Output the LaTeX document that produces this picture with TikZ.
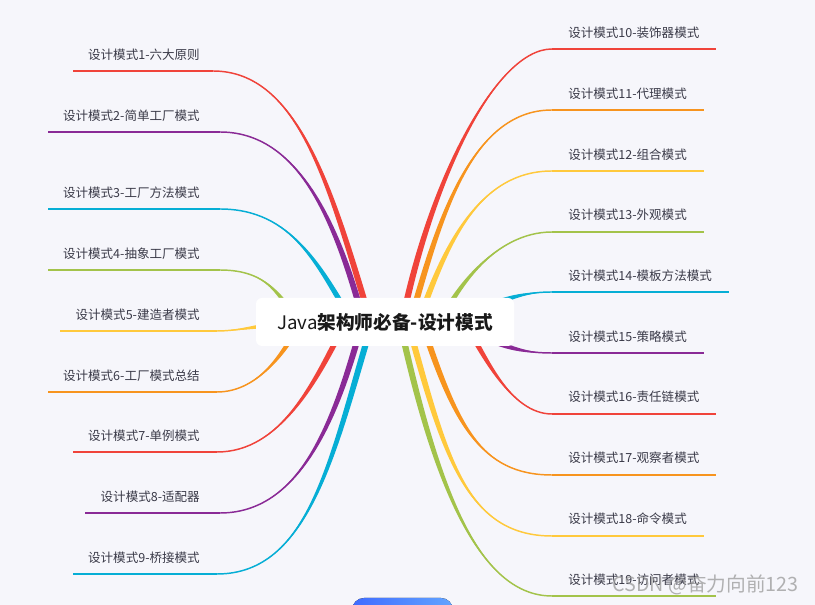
\documentclass[tikz,border=0pt]{standalone}
\usepackage{fontspec}
\setmainfont{Noto Sans CJK SC}
\usetikzlibrary{calc}
\definecolor{paper}{HTML}{F6F6FB}
\definecolor{ink}{HTML}{3A3A48}
\definecolor{bred}{HTML}{F0433A}
\definecolor{bpurple}{HTML}{8A2A96}
\definecolor{bcyan}{HTML}{06AED5}
\definecolor{bgreen}{HTML}{A3C34A}
\definecolor{byellow}{HTML}{FFC93C}
\definecolor{borange}{HTML}{F7941E}
\definecolor{blueA}{HTML}{3F6BFF}
\definecolor{blueB}{HTML}{62A4FF}
% tapered branch: colour, start, control 1, control 2, end, half width
\newcommand{\twig}[6]{%
  \fill[#1] (#2) .. controls (#3) and ($(#4)+(#6)$) .. ($(#5)+(#6)$)
     -- ($(#5)-(#6)$) .. controls ($(#4)-(#6)$) and (#3) .. (#2) -- cycle;
  \draw[#1,line width=1.1pt] (#2) .. controls (#3) and (#4) .. (#5);}

\begin{document}
\begin{tikzpicture}[x=0.75pt,y=-0.75pt,
   lab/.style={text=ink,inner sep=0pt,font=\fontsize{9.4}{11}\selectfont},
   stem/.style={line width=1pt},
   rootbox/.style={fill=white,rounded corners=4.5pt,minimum width=193.5pt,minimum height=36pt,inner sep=0pt}]
   \fill[paper] (0,0) rectangle (815,605);
   \useasboundingbox (0,0) rectangle (815,605);
   % left side
   \coordinate (a1) at (73,71);  \coordinate (p1) at (213,71);  \coordinate (q1) at (371,323);
   \coordinate (a2) at (48,132); \coordinate (p2) at (220,132); \coordinate (q2) at (364,323);
   \coordinate (a3) at (48,209); \coordinate (p3) at (220,209); \coordinate (q3) at (353,323);
   \coordinate (a4) at (48,270); \coordinate (p4) at (220,270); \coordinate (q4) at (300,323);
   \coordinate (a5) at (60,331); \coordinate (p5) at (217,331); \coordinate (q5) at (295,323);
   \coordinate (a6) at (48,392); \coordinate (p6) at (217,392); \coordinate (q6) at (300,323);
   \coordinate (a7) at (73,452); \coordinate (p7) at (217,452); \coordinate (q7) at (345,323);
   \coordinate (a8) at (85,513); \coordinate (p8) at (220,513); \coordinate (q8) at (362,323);
   \coordinate (a9) at (73,574); \coordinate (p9) at (217,574); \coordinate (q9) at (372,323);
   \twig{bred}{p1}{300,71}{332,193}{q1}{3.2,0}
   \twig{bpurple}{p2}{299,132}{337,223}{q2}{3.2,0}
   \twig{bcyan}{p3}{293,209}{320,268}{q3}{3.2,0}
   \twig{bgreen}{p4}{270,270}{280,298}{q4}{3.2,0}
   \twig{byellow}{p5}{240,331}{265,324}{q5}{0,3.2}
   \twig{borange}{p6}{260,392}{287,348}{q6}{3.2,0}
   \twig{bred}{p7}{280,452}{315,383}{q7}{3.2,0}
   \twig{bpurple}{p8}{299,513}{335,423}{q8}{3.2,0}
   \twig{bcyan}{p9}{310,574}{333,453}{q9}{3.2,0}
   \draw[bred,stem] (a1)--(p1);
   \draw[bpurple,stem] (a2)--(p2);
   \draw[bcyan,stem] (a3)--(p3);
   \draw[bgreen,stem] (a4)--(p4);
   \draw[byellow,stem] (a5)--(p5);
   \draw[borange,stem] (a6)--(p6);
   \draw[bred,stem] (a7)--(p7);
   \draw[bpurple,stem] (a8)--(p8);
   \draw[bcyan,stem] (a9)--(p9);
   \node[lab,anchor=east] (l1) at (200,55) {设计模式1-六大原则};
   \node[lab,anchor=east] (l2) at (200,116) {设计模式2-简单工厂模式};
   \node[lab,anchor=east] (l3) at (200,193) {设计模式3-工厂方法模式};
   \node[lab,anchor=east] (l4) at (200,254) {设计模式4-抽象工厂模式};
   \node[lab,anchor=east] (l5) at (200,315) {设计模式5-建造者模式};
   \node[lab,anchor=east] (l6) at (200,376) {设计模式6-工厂模式总结};
   \node[lab,anchor=east] (l7) at (200,436) {设计模式7-单例模式};
   \node[lab,anchor=east] (l8) at (200,497) {设计模式8-适配器};
   \node[lab,anchor=east] (l9) at (200,558) {设计模式9-桥接模式};
   % right side
   \coordinate (p10) at (552,49);  \coordinate (b10) at (716,49);  \coordinate (q10) at (402,323);
   \coordinate (p11) at (552,110); \coordinate (b11) at (704,110); \coordinate (q11) at (410,323);
   \coordinate (p12) at (552,171); \coordinate (b12) at (704,171); \coordinate (q12) at (418,323);
   \coordinate (p13) at (552,232); \coordinate (b13) at (704,232); \coordinate (q13) at (440,323);
   \coordinate (p14) at (552,292); \coordinate (b14) at (729,292); \coordinate (q14) at (480,310);
   \coordinate (p15) at (552,353); \coordinate (b15) at (704,353); \coordinate (q15) at (480,335);
   \coordinate (p16) at (552,414); \coordinate (b16) at (716,414); \coordinate (q16) at (465,323);
   \coordinate (p17) at (552,475); \coordinate (b17) at (716,475); \coordinate (q17) at (422,323);
   \coordinate (p18) at (552,536); \coordinate (b18) at (704,536); \coordinate (q18) at (408,323);
   \coordinate (p19) at (552,596); \coordinate (b19) at (716,596); \coordinate (q19) at (400,323);
   \twig{bred}{p10}{495,49}{430,183}{q10}{3.2,0}
   \twig{borange}{p11}{470,110}{438,223}{q11}{3.2,0}
   \twig{byellow}{p12}{475,171}{443,253}{q12}{3.2,0}
   \twig{bgreen}{p13}{495,232}{455,290}{q13}{3.2,0}
   \twig{bcyan}{p14}{530,292}{510,296}{q14}{0,3.2}
   \twig{bpurple}{p15}{530,353}{510,350}{q15}{0,3.2}
   \twig{bred}{p16}{510,414}{483,353}{q16}{3.2,0}
   \twig{borange}{p17}{480,475}{455,423}{q17}{3.2,0}
   \twig{byellow}{p18}{465,536}{444,453}{q18}{3.2,0}
   \twig{bgreen}{p19}{475,596}{433,473}{q19}{3.2,0}
   \draw[bred,stem] (p10)--(b10);
   \draw[borange,stem] (p11)--(b11);
   \draw[byellow,stem] (p12)--(b12);
   \draw[bgreen,stem] (p13)--(b13);
   \draw[bcyan,stem] (p14)--(b14);
   \draw[bpurple,stem] (p15)--(b15);
   \draw[bred,stem] (p16)--(b16);
   \draw[borange,stem] (p17)--(b17);
   \draw[byellow,stem] (p18)--(b18);
   \draw[bgreen,stem] (p19)--(b19);
   \node[lab,anchor=west] (l10) at (568,33) {设计模式10-装饰器模式};
   \node[lab,anchor=west] (l11) at (568,94) {设计模式11-代理模式};
   \node[lab,anchor=west] (l12) at (568,155) {设计模式12-组合模式};
   \node[lab,anchor=west] (l13) at (568,215) {设计模式13-外观模式};
   \node[lab,anchor=west] (l14) at (568,276) {设计模式14-模板方法模式};
   \node[lab,anchor=west] (l15) at (568,337) {设计模式15-策略模式};
   \node[lab,anchor=west] (l16) at (568,397) {设计模式16-责任链模式};
   \node[lab,anchor=west] (l17) at (568,458) {设计模式17-观察者模式};
   \node[lab,anchor=west] (l18) at (568,519) {设计模式18-命令模式};
   \node[lab,anchor=west] (l19) at (568,580) {设计模式19-访问者模式};
   % centre
   \node[rootbox] (root) at (385,322) {};
   \node[text=black!90,font=\fontsize{14}{16}\selectfont] (title) at (root.center) {Java\textbf{架构师必备-设计模式}};
   % bottom button and mark
   \begin{scope}
     \clip (0,0) rectangle (815,605);
     \fill[left color=blueA,right color=blueB,rounded corners=9pt] (352,598) rectangle (453,640);
   \end{scope}
   \node[anchor=west,text=black!40,opacity=.75,inner sep=0pt,font=\fontsize{14.8}{16}\selectfont] (mark) at (612,585) {CSDN @奋力向前123};
\end{tikzpicture}
\end{document}
